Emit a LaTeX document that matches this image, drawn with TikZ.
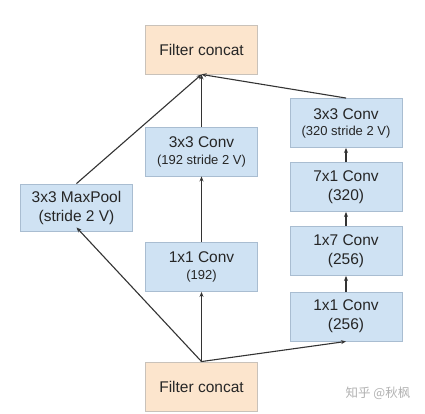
\documentclass[tikz,border=0pt]{standalone}
\usepackage{fontspec}
\setmainfont{Liberation Sans}
\newfontfamily\cjk{Noto Sans CJK SC}
\usetikzlibrary{arrows.meta}
\definecolor{bluefill}{HTML}{CFE2F3}
\definecolor{blueline}{HTML}{A9BDD1}
\definecolor{orangefill}{HTML}{FCE5CD}
\definecolor{orangeline}{HTML}{C9C2BA}
\definecolor{edgecol}{HTML}{333333}
\begin{document}
\begin{tikzpicture}[x=1pt,y=-1pt,
  box/.style={draw=blueline, fill=bluefill, line width=0.9pt, minimum width=112pt, minimum height=49pt, inner sep=0pt, align=center, font=\fontsize{15.5}{19}\selectfont, text=black!85},
  concat/.style={box, draw=orangeline, fill=orangefill},
  small/.style={font=\fontsize{13}{16}\selectfont},
  conn/.style={draw=edgecol, line width=1.1pt, -{Stealth[length=5pt,width=4pt]}}
]
\useasboundingbox (0,0) rectangle (425,414);
\fill[white] (0,0) rectangle (425,414);
\node[concat] (top) at (201.5,49.5) {Filter concat};
\node[concat] (bot) at (201.5,386.5) {Filter concat};
\node[box] (c3) at (201.5,151.5) {3x3 Conv\\[-2pt]{\fontsize{13}{16}\selectfont (192 stride 2 V)}};
\node[box] (c1) at (201.5,267) {1x1 Conv\\[-2pt]{\fontsize{13}{16}\selectfont (192)}};
\node[box, minimum height=47pt] (mp) at (76.5,207.5) {3x3 MaxPool\\(stride 2 V)};
\node[box] (r4) at (346,123) {3x3 Conv\\[-3pt]{\fontsize{13}{16}\selectfont (320 stride 2 V)}};
\node[box] (r3) at (346,187) {7x1 Conv\\(320)};
\node[box] (r2) at (346,251) {1x7 Conv\\(256)};
\node[box] (r1) at (346,316.5) {1x1 Conv\\(256)};
\node[font=\cjk\fontsize{12.5}{14}\selectfont, text=black!30, inner sep=0pt] (wm) at (378,393) {知乎 @秋枫};
\coordinate (bn) at (bot.north);
\coordinate (ts) at (top.south);
\draw[conn] (bn) -- ([yshift=4pt]mp.south);
\draw[conn] (bn) -- (c1.south);
\draw[conn] (bn) -- (r1.south);
\draw[conn] (c1) -- (c3);
\draw[conn] (r1) -- (r2);
\draw[conn] (r2) -- (r3);
\draw[conn] (r3) -- (r4);
\draw[conn] (mp.north) -- (ts);
\draw[conn] (c3.north) -- (ts);
\draw[conn] (r4.north) -- (ts);
\end{tikzpicture}
\end{document}
